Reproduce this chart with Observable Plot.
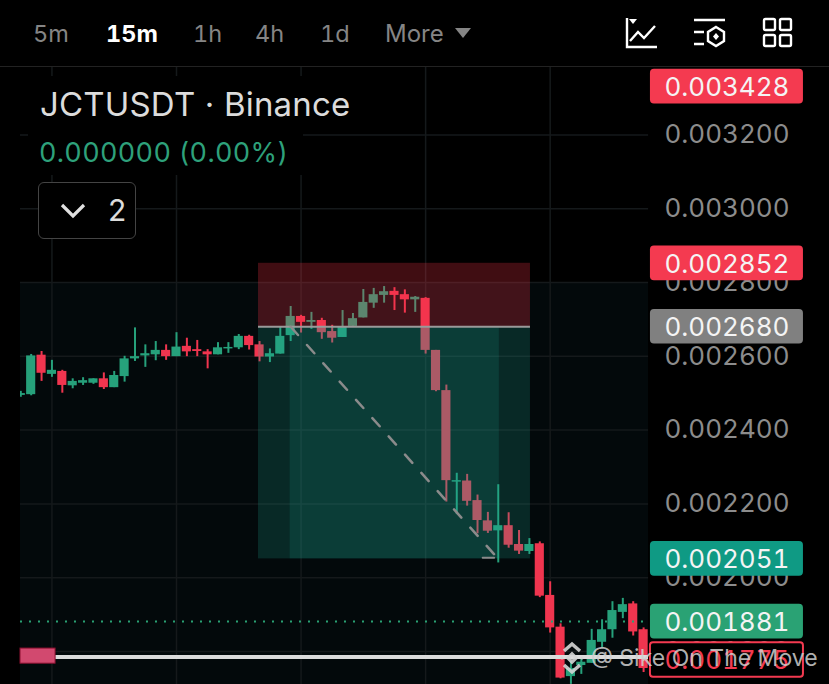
<!DOCTYPE html>
<html><head><meta charset="utf-8">
<script src="https://cdn.jsdelivr.net/npm/d3@7"></script>
<script src="https://cdn.jsdelivr.net/npm/@observablehq/plot@0.6"></script>
<style>
html,body{margin:0;padding:0;background:#000;width:829px;height:684px;overflow:hidden;font-family:Inter,"Noto Sans",sans-serif}
#wrap{position:relative;width:829px;height:684px}
#bar{position:relative;height:66px;border-bottom:1px solid #222;box-sizing:content-box;background:#000}
#bar span{position:absolute;top:19px;font-size:23.5px;line-height:29px;color:#858585;font-variant-numeric:tabular-nums}
#bar span.on{color:#fff;font-weight:700}
#bar svg{position:absolute}
#chart svg{display:block}
#head{position:absolute;left:28px;top:76px;width:275px;height:99px;background:#000}
#title{position:absolute;left:40px;top:84px;font-size:33px;line-height:40px;color:#dcdcdc;white-space:nowrap;letter-spacing:.18px}
#sub{position:absolute;left:39px;top:136px;font-size:27px;line-height:34px;color:#2ea17b;white-space:nowrap;font-variant-numeric:tabular-nums;letter-spacing:.3px}
#btn{position:absolute;left:38px;top:182px;width:96px;height:55px;border:1.5px solid #444;border-radius:6px;background:#000}
#btn span{position:absolute;left:69px;top:9px;font-size:30px;line-height:36px;color:#dcdcdc}
#logo{position:absolute;left:555px;top:641px}
</style></head>
<body><div id="wrap">
<div id="bar">
<span style="left:33px">5m</span><span class="on" style="left:106px">15m</span><span style="left:193px">1h</span><span style="left:255px">4h</span><span style="left:320px">1d</span><span style="left:385px;font-size:24px">More</span>
<svg style="left:454px;top:27px" width="18" height="12"><path d="M1 1H17L9 11Z" fill="#858585"/></svg>
<svg style="left:624px;top:16px" width="36" height="36" fill="none" stroke="#fff" stroke-width="2.4"><path d="M3 2V31H33"/><path d="M6 25L14 16L20 22L31 10"/><path d="M5 3H13L9 8Z" fill="#fff" stroke="none"/></svg>
<svg style="left:692px;top:16px" width="36" height="36" fill="none" stroke="#fff" stroke-width="2.4"><path d="M2 4H33M2 16H12M2 28H12"/><path d="M24 11L32 16V25L24 30L16 25V16Z"/><path d="M24 17L27 20.500L24 24L21 20.500Z" fill="#fff" stroke="none"/></svg>
<svg style="left:761px;top:16px" width="34" height="34" fill="none" stroke="#fff" stroke-width="2.4" ><rect x="3" y="3" width="11" height="11" rx="1.500"/><rect x="19" y="3" width="11" height="11" rx="1.500"/><rect x="3" y="19" width="11" height="11" rx="1.500"/><rect x="19" y="19" width="11" height="11" rx="1.500"/></svg>
</div>
<div id="chart"></div>
<div id="head"></div>
<div id="title">JCTUSDT · Binance</div>
<div id="sub">0.000000 (0.00%)</div>
<div id="btn"><svg style="position:absolute;left:21px;top:19px" width="28" height="18" fill="none" stroke="#e0e0e0" stroke-width="3.2"><path d="M2 3L13 14L24 3"/></svg><span>2</span></div>
<svg id="logo" width="34" height="34" fill="none" stroke="#d5d5d5" stroke-width="3.5" opacity="0.9"><path d="M9 10L17 3L25 10"/><path d="M9 24L17 31L25 24"/><path d="M17 13L21 17L17 21L13 17Z"/><circle cx="7" cy="17" r="1.500" fill="#d5d5d5" stroke="none"/><circle cx="27" cy="17" r="1.500" fill="#d5d5d5" stroke="none"/></svg>
</div>
<script>
const opens = [0.002494,0.002496,0.002603,0.002551,0.002559,0.002520,0.002527,0.002527,0.002539,0.002515,0.002545,0.002593,0.002601,0.002604,0.002616,0.002599,0.002627,0.002618,0.002612,0.002604,0.002620,0.002623,0.002654,0.002631,0.002598,0.002606,0.002656,0.002708,0.002692,0.002697,0.002667,0.002651,0.002681,0.002704,0.002744,0.002765,0.002776,0.002767,0.002753,0.002757,0.002616,0.002507,0.002259,0.002262,0.002209,0.002154,0.002127,0.002141,0.002090,0.002071,0.002092,0.001952,0.001866,0.001732,0.001762,0.001768,0.001825,0.001859,0.001906,0.001929,0.001859];
const closes = [0.002499,0.002601,0.002554,0.002562,0.002521,0.002532,0.002534,0.002539,0.002515,0.002548,0.002593,0.002599,0.002607,0.002616,0.002599,0.002625,0.002612,0.002613,0.002604,0.002623,0.002624,0.002654,0.002629,0.002598,0.002607,0.002654,0.002708,0.002692,0.002697,0.002664,0.002649,0.002678,0.002702,0.002746,0.002767,0.002775,0.002765,0.002753,0.002760,0.002616,0.002507,0.002263,0.002263,0.002207,0.002155,0.002126,0.002141,0.002088,0.002072,0.002090,0.001950,0.001864,0.001728,0.001754,0.001771,0.001830,0.001859,0.001911,0.001927,0.001853,0.001754];
const highs = [0.002505,0.002605,0.002613,0.002589,0.002562,0.002539,0.002542,0.002539,0.002555,0.002559,0.002600,0.002677,0.002631,0.002640,0.002631,0.002664,0.002649,0.002643,0.002618,0.002637,0.002637,0.002659,0.002657,0.002640,0.002620,0.002679,0.002735,0.002711,0.002719,0.002703,0.002684,0.002724,0.002716,0.002781,0.002784,0.002789,0.002786,0.002780,0.002762,0.002759,0.002616,0.002522,0.002283,0.002280,0.002224,0.002177,0.002252,0.002176,0.002128,0.002106,0.002097,0.001989,0.001875,0.001773,0.001781,0.001860,0.001886,0.001935,0.001944,0.001935,0.001864];
const lows = [0.002489,0.002493,0.002532,0.002543,0.002500,0.002512,0.002521,0.002524,0.002510,0.002515,0.002530,0.002586,0.002570,0.002588,0.002589,0.002599,0.002599,0.002599,0.002566,0.002604,0.002608,0.002618,0.002617,0.002585,0.002583,0.002606,0.002640,0.002663,0.002673,0.002646,0.002636,0.002651,0.002681,0.002704,0.002730,0.002744,0.002724,0.002717,0.002719,0.002606,0.002504,0.002205,0.002171,0.002194,0.002119,0.002120,0.002040,0.002080,0.002063,0.002063,0.001946,0.001850,0.001726,0.001711,0.001738,0.001768,0.001810,0.001836,0.001889,0.001842,0.001743];
const yTicks = [0.0018,0.002,0.0022,0.0024,0.0026,0.0028,0.003,0.0032];
const xGrid = [3,15,27,39,51];
const priceTags = ["0.003428","0.002852","0.002680","0.002051","0.001881"];
const tagAt = [0.003331,0.002852,0.002680,0.002051,0.001881];
const tagFill = ["#f43a50","#f43a50","#808080","#0f9a84","#2aa274"];
const lastTag = "0.001775", lastAt = 0.001777;
const entry = 0.002680, stop = 0.002852, target = 0.002051, dotted = 0.001881, hline = 0.001785;

const UP = "#26a17b", DOWN = "#f0354f", C = "Inter, 'Noto Sans', sans-serif";
const candles = opens.map((o,i)=>({i,o,c:closes[i],h:highs[i],l:lows[i],col:closes[i]>=o?UP:DOWN}));
const X0=-1.956, X1=77.91, PANE0=-0.03, PANE1=60.48, TAG0=60.66, TAG1=75.4, Y1=0.0033826, Y0=0.0017106;
const ZL=22.9, ZR=49.1, ZIL=25.95, ZIR=46.1;
const hh = 0.0000470;
const tagRows = priceTags.map((t,k)=>({t,at:tagAt[k],fill:tagFill[k]}));
const R = a=>[a];

const plot = Plot.plot({
  width:829,height:617,margin:0,style:{background:"#000",fontFamily:C,overflow:"hidden"},
  x:{domain:[X0,X1],axis:null},
  y:{domain:[Y0,Y1],axis:null},
  marks:[
    Plot.rect(R(1),{x1:PANE0,x2:PANE1,y1:Y0,y2:0.0028,fill:"#03090b"}),
    Plot.gridY(yTicks,{stroke:"#15191b",strokeOpacity:1,strokeWidth:1.5}),
    Plot.gridX(xGrid,{stroke:"#15191b",strokeOpacity:1,strokeWidth:1.5}),
    Plot.ruleX(candles,{x:"i",y1:"l",y2:"h",stroke:"col",strokeWidth:2}),
    Plot.rect(candles,{x1:d=>d.i-0.44,x2:d=>d.i+0.44,y1:d=>Math.min(d.o,d.c),y2:d=>Math.max(d.o,d.c),fill:"col"}),
    Plot.rect(R(1),{x1:X0,x2:PANE0,y1:Y0,y2:Y1,fill:"#000"}),
    // zones
    Plot.rect(R(1),{x1:ZL,x2:ZR,y1:entry,y2:stop,fill:"rgb(255,50,70)",fillOpacity:0.25}),
    Plot.rect(R(1),{x1:ZL,x2:ZR,y1:target,y2:entry,fill:"rgb(29,170,150)",fillOpacity:0.2}),
    Plot.rect(R(1),{x1:ZIL,x2:ZIR,y1:target,y2:entry,fill:"rgb(29,170,150)",fillOpacity:0.16}),
    Plot.ruleY([entry],{x1:ZL,x2:ZR,stroke:"#9a9a9a",strokeWidth:2}),
    Plot.line([{x:26,y:entry},{x:46,y:target}],{x:"x",y:"y",stroke:"#8b8b8b",strokeWidth:2.5,strokeDasharray:"11,13.5"}),
    Plot.line([{x:44.5,y:target+0.000003},{x:45.6,y:target+0.000003}],{x:"x",y:"y",stroke:"#8b8b8b",strokeWidth:2}),
    Plot.ruleY([dotted],{x1:PANE0,x2:PANE1,stroke:"#2aa274",strokeWidth:2,strokeDasharray:"2,7"}),
    Plot.ruleY([hline],{x1:3.35,x2:PANE1,stroke:"#dcdcdc",strokeWidth:4}),
    Plot.rect(R(1),{x1:PANE0,x2:3.35,y1:0.001767,y2:0.001808,fill:"#d2496f",stroke:"#8a1030"}),
    // price axis panel
    Plot.rect(R(1),{x1:PANE1,x2:X1,y1:Y0,y2:Y1,fill:"#000"}),
    Plot.axisY(yTicks,{anchor:"right",textAnchor:"end",tickSize:0,tickPadding:0,dx:-40,fontSize:26,fill:"#8c8c8c",tickFormat:d=>d.toFixed(6)}),
    Plot.rect(tagRows,{x1:TAG0,x2:TAG1,y1:d=>d.at-hh,y2:d=>d.at+hh,fill:"fill",rx:4}),
    Plot.text(tagRows,{x:(TAG0+TAG1)/2,y:"at",text:"t",fill:"#f4f4f4",fontSize:26,fontVariant:"tabular-nums",dy:1}),
    Plot.rect(R(1),{x1:TAG0,x2:TAG1,y1:lastAt-hh,y2:lastAt+hh,fill:"#000",stroke:"#f43a50",strokeWidth:2,rx:3}),
    Plot.text([lastTag],{x:(TAG0+TAG1)/2,y:lastAt,text:d=>d,fill:"#f43a50",fontSize:26,fontVariant:"tabular-nums",dy:1}),
    // watermark
    Plot.text(["@ Sike On The Move"],{x:54.9,y:0.001782,text:d=>d,textAnchor:"start",fill:"#d0d0d0",fillOpacity:0.85,fontSize:23})
  ]
});
document.getElementById("chart").append(plot);
</script>
</body></html>
